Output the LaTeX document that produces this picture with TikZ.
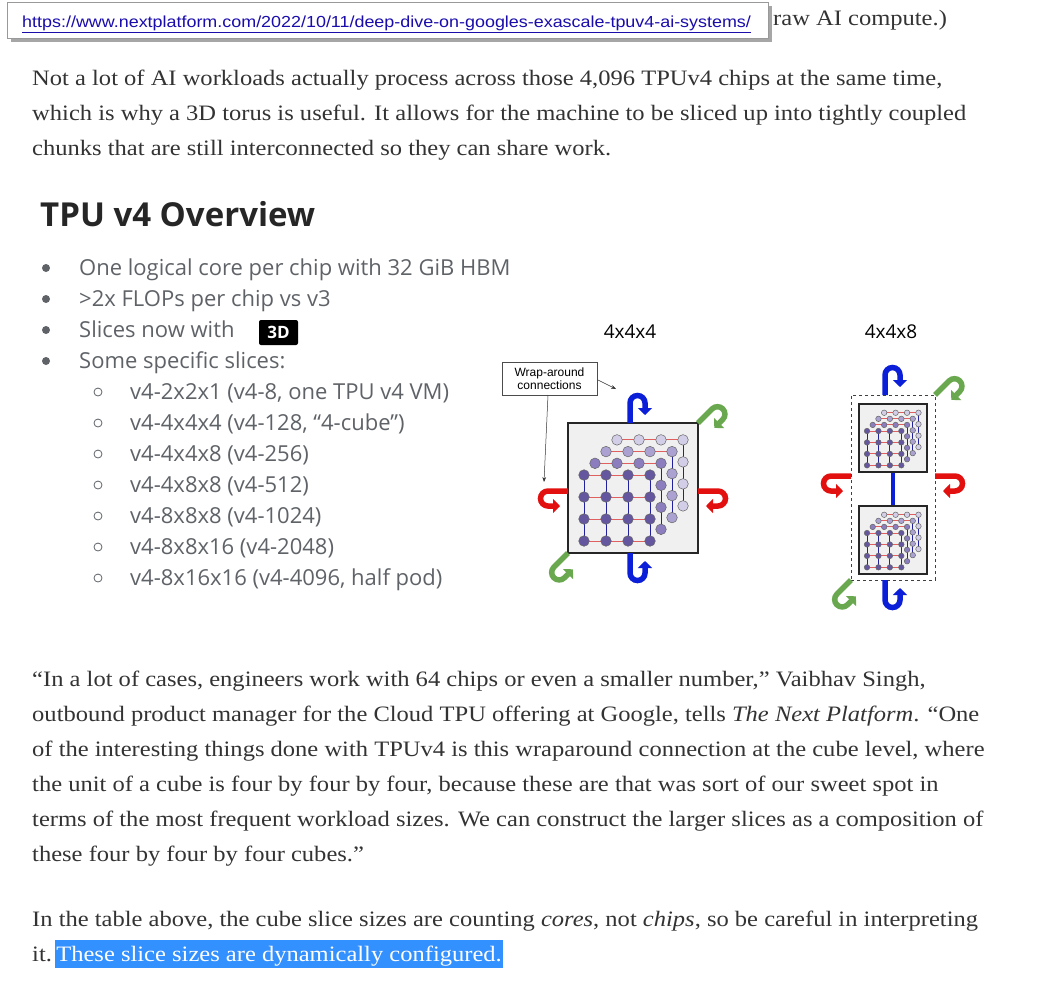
\documentclass[tikz,border=0pt]{standalone}
\usepackage{fontspec}
\setmainfont{Liberation Serif}
\newfontfamily\slidefont{Open Sans}
\newfontfamily\urlfont{Liberation Sans}
\usetikzlibrary{arrows.meta}
\definecolor{bodytxt}{HTML}{333333}
\definecolor{slidetxt}{HTML}{5F6368}
\definecolor{linkblue}{HTML}{1A0DAB}
\definecolor{hl}{HTML}{3390FF}
\definecolor{arrblue}{HTML}{0B1FD8}
\definecolor{arrred}{HTML}{E31010}
\definecolor{arrgreen}{HTML}{6AA84F}
\definecolor{dotA}{HTML}{65579F}
\definecolor{dotB}{HTML}{8B7DBE}
\definecolor{dotC}{HTML}{ABA2D1}
\definecolor{dotD}{HTML}{D2CEE7}
\definecolor{latred}{HTML}{E06060}
\definecolor{latblue}{HTML}{2020A0}
\tikzset{
  body/.style={anchor=base west, inner sep=0pt, text=bodytxt, font=\fontsize{22}{22}\selectfont, xscale=1.115, transform shape},
  slide/.style={anchor=base west, inner sep=0pt, text=slidetxt, font=\slidefont\fontsize{22}{22}\selectfont},
  sizelbl/.style={anchor=base, inner sep=0pt, text=black, font=\slidefont\fontsize{19}{19}\selectfont},
  cubebox/.style={draw=black!85, line width=1.6pt, fill=black!6},
  uarr/.style={line width=5.5pt, -{Triangle[length=7pt,width=14pt]}},
  latdot/.style={draw=black!60, line width=0.5pt},
}
\newcommand\uarrow[3]{%
  \begin{scope}[shift={#1}, cm={#2,(0,0)}]
    \draw[uarr, #3] (0,0) -- (0,-20) arc[start angle=180, end angle=360, radius=7.5] -- (15,-8);
  \end{scope}}
\newcommand\lattice[2]{%
  \begin{scope}[shift={#1}, scale=#2]
    \foreach \k/\col in {3/dotD,2/dotC,1/dotB}{
      \begin{scope}[shift={(11*\k,-11.7*\k)}]
        \draw[latred, line width=1pt] (0,0) -- (66,0);
        \draw[latblue, line width=1pt] (66,0) -- (66,66);
        \foreach \i in {0,...,3}{\fill[\col, latdot] (22*\i,0) circle (5.3);}
        \foreach \j in {1,...,3}{\fill[\col, latdot] (66,22*\j) circle (5.3);}
      \end{scope}
    }
    \foreach \i in {0,...,3}{
      \draw[latred, line width=1pt] (0,22*\i) -- (66,22*\i);
      \draw[latblue, line width=1pt] (22*\i,0) -- (22*\i,66);
    }
    \foreach \i in {0,...,3}{\foreach \j in {0,...,3}{
      \fill[dotA, latdot] (22*\i,22*\j) circle (5.3);
    }}
  \end{scope}}
\begin{document}
\begin{tikzpicture}[x=1pt, y=-1pt]
\useasboundingbox (0,0) rectangle (1044,989);
\fill[white] (0,0) rectangle (1044,989);
\fill[black!35] (11,6) rectangle (772,42);
\fill[white, draw=black!40] (7,2) rectangle (768,38);
\node[anchor=base west, inner sep=0pt, text=linkblue, font=\urlfont\fontsize{16}{16}\selectfont, xscale=1.12, transform shape] (url) at (22,27) {\underline{https://www.nextplatform.com/2022/10/11/deep-dive-on-googles-exascale-tpuv4-ai-systems/}};
\node[body] (p0) at (773,25) {raw AI compute.)};
\node[body] (p1) at (32,85) {Not a lot of AI workloads actually process across those 4,096 TPUv4 chips at the same time,};
\node[body] (p2) at (32,120) {which is why a 3D torus is useful. It allows for the machine to be sliced up into tightly coupled};
\node[body] (p3) at (32,155) {chunks that are still interconnected so they can share work.};
\node[anchor=base west, inner sep=0pt, text=black!85, font=\slidefont\bfseries\fontsize{33}{33}\selectfont] (title) at (40,226) {TPU v4 Overview};
\foreach \y/\t [count=\n] in {275/One logical core per chip with 32 GiB HBM, 306/>2x FLOPs per chip vs v3, 337/Slices now with, 368/Some specific slices:}{
  \fill[slidetxt] (46,\y-7) circle (4);
  \node[slide] (b\n) at (79,\y) {\t};
}
\node[fill=black, rounded corners=2pt, text=white, font=\slidefont\bfseries\fontsize{17}{17}\selectfont, inner sep=0pt, minimum width=39pt, minimum height=25pt] (badge) at (278.5,332.5) {3D};
\foreach \y/\t [count=\n] in {399/{v4-2x2x1 (v4-8, one TPU v4 VM)}, 430/{v4-4x4x4 (v4-128, “4-cube”)}, 461/{v4-4x4x8 (v4-256)}, 492/{v4-4x8x8 (v4-512)}, 523/{v4-8x8x8 (v4-1024)}, 554/{v4-8x8x16 (v4-2048)}, 585/{v4-8x16x16 (v4-4096, half pod)}}{
  \draw[slidetxt, line width=0.8pt] (98,\y-7) circle (4);
  \node[slide] (s\n) at (130,\y) {\t};
}
\node[sizelbl] (l444) at (630,338) {4x4x4};
\node[sizelbl] (l448) at (891,338) {4x4x8};
\node[draw=black!70, fill=white, line width=0.6pt, align=center, inner sep=2pt, font=\urlfont\fontsize{12}{13.5}\selectfont, minimum width=95pt, minimum height=33pt] (wrap) at (549.5,378.5) {Wrap-around\\connections};
\coordinate (wa) at (544,482);
\coordinate (wb) at (616,389);
\draw[black!80, line width=0.5pt, -{Stealth[length=5pt]}] (548,395) -- (wa);
\draw[black!80, line width=0.5pt, -{Stealth[length=5pt]}] (598,380) -- (wb);
\node[cubebox, minimum width=130pt, minimum height=130pt, inner sep=0pt] (cube) at (633,488) {};
\lattice{(584,475)}{1}
\uarrow{(630,423)}{1,0,0,1}{arrblue}
\uarrow{(630,553)}{1,0,0,-1}{arrblue}
\uarrow{(568,491)}{0,-1,-1,0}{arrred}
\uarrow{(698,491)}{0,-1,1,0}{arrred}
\uarrow{(698,423)}{0.707,-0.707,0.707,0.707}{arrgreen}
\uarrow{(568,553)}{0.707,-0.707,-0.707,-0.707}{arrgreen}
\node[draw=black!75, dashed, line width=0.8pt, minimum width=84pt, minimum height=185pt, inner sep=0pt] (dash) at (893,487.5) {};
\node[cubebox, minimum width=68pt, minimum height=68pt, inner sep=0pt, line width=1.2pt] (c1) at (893,438) {};
\node[cubebox, minimum width=68pt, minimum height=68pt, inner sep=0pt, line width=1.2pt] (c2) at (893,540) {};
\draw[arrblue, line width=3.5pt] (c1.south) -- (c2.north);
\lattice{(867,431)}{0.52}
\lattice{(867,533)}{0.52}
\uarrow{(885,395)}{1,0,0,1}{arrblue}
\uarrow{(885,580)}{1,0,0,-1}{arrblue}
\uarrow{(851,476)}{0,-1,-1,0}{arrred}
\uarrow{(935,476)}{0,-1,1,0}{arrred}
\uarrow{(935,395)}{0.707,-0.707,0.707,0.707}{arrgreen}
\uarrow{(851,580)}{0.707,-0.707,-0.707,-0.707}{arrgreen}
\node[body] (q1) at (32,686) {“In a lot of cases, engineers work with 64 chips or even a smaller number,” Vaibhav Singh,};
\node[body] (q2) at (32,721) {outbound product manager for the Cloud TPU offering at Google, tells \textit{The Next Platform}. “One};
\node[body] (q3) at (32,756) {of the interesting things done with TPUv4 is this wraparound connection at the cube level, where};
\node[body] (q4) at (32,791) {the unit of a cube is four by four by four, because these are that was sort of our sweet spot in};
\node[body] (q5) at (32,826) {terms of the most frequent workload sizes. We can construct the larger slices as a composition of};
\node[body] (q6) at (32,861) {these four by four by four cubes.”};
\node[body] (r1) at (32,926) {In the table above, the cube slice sizes are counting \textit{cores}, not \textit{chips}, so be careful in interpreting};
\node[body] (r2) at (32,961) {it.};
\node[body, fill=hl, text=white, inner xsep=1pt, inner ysep=0pt, text depth=7pt, text height=21pt] (hlt) at (55,961) {These slice sizes are dynamically configured.};
\end{tikzpicture}
\end{document}
